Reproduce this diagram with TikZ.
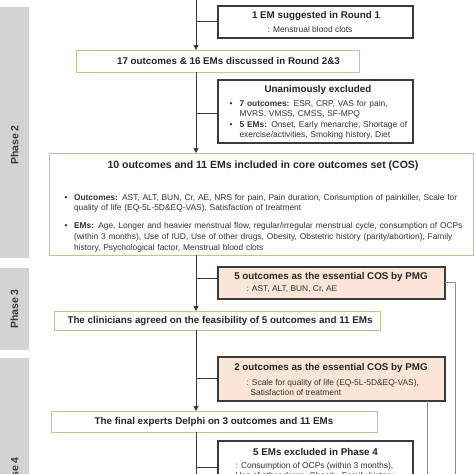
\documentclass[tikz,border=0pt]{standalone}
\usepackage{fontspec}
\setmainfont{Liberation Sans}
\usetikzlibrary{arrows.meta}
\definecolor{grn}{HTML}{A9D18E}
\definecolor{peach}{HTML}{FBE5D6}
\definecolor{barg}{HTML}{D3D3D3}
\definecolor{dk}{HTML}{3A3A3A}
\definecolor{lg}{HTML}{8C8C8C}
\tikzset{
  greenbox/.style={draw=grn, line width=1pt, fill=white},
  blackbox/.style={draw=dk, line width=1.1pt, fill=white},
  peachbox/.style={draw=dk, line width=1.1pt, fill=peach},
  phasebar/.style={fill=barg, draw=none},
  phaselbl/.style={rotate=90, font=\fontsize{10.5}{12}\selectfont\bfseries, text=dk},
  conn/.style={draw=dk, line width=0.8pt},
  arr/.style={conn, -{Triangle[length=5pt,width=5pt]}},
  sideline/.style={draw=lg, line width=0.8pt},
  ttl/.style={font=\fontsize{9.8}{11}\selectfont\bfseries, text=black!85},
  body/.style={font=\fontsize{8.4}{10}\selectfont, text=black!80, align=left},
}
\begin{document}
\begin{tikzpicture}[x=1pt,y=-1pt]
\useasboundingbox (0,0) rectangle (474,474);
\clip (0,0) rectangle (474,474);
% phase bars
\fill[phasebar] (0,7) rectangle (29,258);
\fill[phasebar] (0,268) rectangle (29,350);
\fill[phasebar] (0,358) rectangle (29,600);
\node[phaselbl] (p2) at (14.5,145) {Phase 2};
\node[phaselbl] (p3) at (14.5,309) {Phase 3};
\node[phaselbl] (p4) at (14.5,477) {Phase 4};

% main column coordinates
\coordinate (top) at (196,0);
\coordinate (bot) at (196,474);

% boxes
\draw[blackbox] (218,6) rectangle (413,38);
\node[ttl] (t1) at (316,15.5) {1 EM suggested in Round 1};
\node[body] (s1) at (310,29) {: Menstrual blood clots};
\coordinate (b1) at (218,21);

\draw[greenbox] (76,50) rectangle (359,72);
\node[ttl] (r23) at (228.5,61) {17 outcomes \& 16 EMs discussed in Round 2\&3};
\coordinate (r23t) at (196,50);
\coordinate (r23b) at (196,72);

\draw[blackbox] (218,80) rectangle (413,143);
\node[ttl] (ux) at (318,89.5) {Unanimously excluded};
\node[body, anchor=north west, text width=200pt] (uxb) at (226,96.5) {%
  \makebox[10pt][l]{•}\textbf{7 outcomes:} ESR, CRP, VAS for pain,\\
  \hspace*{10pt}MVRS, VMSS, CMSS, SF-MPQ\\[1.5pt]
  \makebox[10pt][l]{•}\textbf{5 EMs:} Onset, Early menarche, Shortage of\\
  \hspace*{10pt}exercise/activities, Smoking history, Diet};
\coordinate (b2) at (218,113);

\draw[greenbox] (49,153) rectangle (473,255);
\node[font=\fontsize{10.5}{12}\selectfont\bfseries, text=black!85] (cos) at (263,165.5) {10 outcomes and 11 EMs included in core outcomes set (COS)};
\node[body, anchor=north west, text width=420pt, font=\fontsize{8.4}{10.8}\selectfont] (cosb) at (61,190.5) {%
  \makebox[9.5pt][l]{•}\textbf{Outcomes:} AST, ALT, BUN, Cr, AE, NRS for pain, Pain duration, Consumption of painkiller, Scale for\\
  \hspace*{9.5pt}quality of life (EQ-5L-5D\&EQ-VAS), Satisfaction of treatment\\[7pt]
  \makebox[9.5pt][l]{•}\textbf{EMs:} Age, Longer and heavier menstrual flow, regular/irregular menstrual cycle, consumption of OCPs\\
  \hspace*{9.5pt}(within 3 months), Use of IUD, Use of other drugs, Obesity, Obstetric history (parity/abortion), Family\\
  \hspace*{9.5pt}history, Psychological factor, Menstrual blood clots};
\coordinate (cost) at (196,153);
\coordinate (cosbt) at (196,255);

\draw[peachbox] (218,267) rectangle (445,299);
\node[ttl] (po5) at (331,277) {5 outcomes as the essential COS by PMG};
\node[body, anchor=west] (po5s) at (243,289) {: AST, ALT, BUN, Cr, AE};
\coordinate (b3) at (218,278);
\coordinate (r3) at (445,282);
\coordinate (r3c) at (455,282);
\coordinate (r3e) at (455,474);

\draw[greenbox] (54,311) rectangle (380,330);
\node[ttl] (clin) at (220,320.5) {The clinicians agreed on the feasibility of 5 outcomes and 11 EMs};
\coordinate (clint) at (196,311);
\coordinate (clinb) at (196,330);

\draw[peachbox] (218,357) rectangle (445,401);
\node[ttl] (po2) at (331,367.5) {2 outcomes as the essential COS by PMG};
\node[body, anchor=north west] (po2s) at (243,375.5) {: Scale for quality of life (EQ-5L-5D\&EQ-VAS),\\
\hspace*{4pt}Satisfaction of treatment};
\coordinate (b4) at (218,378);
\coordinate (r4) at (427,401);
\coordinate (r4e) at (427,474);

\draw[greenbox] (51,411) rectangle (377,432);
\node[ttl] (fin) at (214,421.5) {The final experts Delphi on 3 outcomes and 11 EMs};
\coordinate (fint) at (196,411);
\coordinate (finb) at (196,432);

\draw[blackbox] (218,441) rectangle (413,520);
\node[ttl] (ex5) at (315.5,452) {5 EMs excluded in Phase 4};
\node[body, anchor=north] (ex5s) at (315.5,458.5) {: Consumption of OCPs (within 3 months),\\
Use of other drugs, Obesity, Family history,};
\coordinate (b5) at (218,467);

% connectors
\draw[arr] (top) -- (r23t);
\draw[conn] (196,21) -- (b1);
\draw[arr] (r23b) -- (cost);
\draw[conn] (196,113) -- (b2);
\draw[arr] (cosbt) -- (clint);
\draw[conn] (196,278) -- (b3);
\draw[arr] (clinb) -- (fint);
\draw[conn] (196,378) -- (b4);
\draw[conn] (finb) -- (bot);
\draw[conn] (196,467) -- (b5);
\draw[sideline] (r3) -- (r3c) -- (r3e);
\draw[sideline] (r4) -- (r4e);
\end{tikzpicture}
\end{document}
